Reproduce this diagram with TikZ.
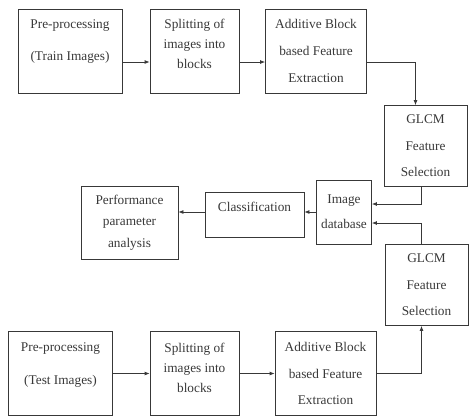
\documentclass[tikz,border=0pt]{standalone}
\usepackage{fontspec}
\setmainfont{Liberation Serif}
\usetikzlibrary{arrows.meta}

\begin{document}
\begin{tikzpicture}[
    x = 1pt, y = -1pt,
    line width = 0.8pt,
    color = black!78,
    > = {Latex[length = 5pt, width = 4pt]},
    block/.style = {draw,
      align = center,
      inner sep = 0pt,
      font = \fontsize{13.3}{20}\selectfont},
    prep/.style = {minimum width = 104pt, minimum height = 84pt},
    split/.style = {minimum width = 89pt, minimum height = 84pt},
    extract/.style = {minimum width = 101pt, minimum height = 84pt},
    glcm/.style = {minimum width = 83pt, minimum height = 81pt},
    ]

    \useasboundingbox (0, 0) rectangle (474, 416);

    % training branch
    \node at (70, 51)
    [block, prep, name = train_pre] {Pre-processing\\[12pt](Train Images)\\[2pt]\mbox{}};

    \node at (194.5, 51)
    [block, split, name = train_split] {Splitting of\\images into\\blocks\\[-6pt]\mbox{}};

    \node at (316, 51)
    [block, extract, name = train_feat] {Additive Block\\[7pt]based Feature\\[7pt]Extraction};

    \node at (425.5, 146)
    [block, glcm, name = train_glcm] {GLCM\\[6.5pt]Feature\\[6.5pt]Selection};

    % middle row
    \node at (344, 212)
    [block, minimum width = 55pt, minimum height = 64pt, name = database]
    {Image\\[5pt]database};

    \node at (254.5, 215)
    [block, minimum width = 99pt, minimum height = 45pt, name = classify]
    {Classification\\[-3pt]\mbox{}};

    \node at (129.5, 222.5)
    [block, minimum width = 97pt, minimum height = 73pt, name = analysis]
    {Performance\\[1.5pt]parameter\\[1.5pt]analysis};

    % testing branch
    \node at (426.5, 285)
    [block, glcm, name = test_glcm] {GLCM\\[6.5pt]Feature\\[6.5pt]Selection};

    \node at (60.5, 373.5)
    [block, prep, name = test_pre] {Pre-processing\\[13pt](Test Images)\\[0pt]\mbox{}};

    \node at (194.5, 373.5)
    [block, split, name = test_split] {Splitting of\\images into\\blocks\\[-8pt]\mbox{}};

    \node at (325.5, 373.5)
    [block, extract, name = test_feat] {Additive Block\\[6.5pt]based Feature\\[6.5pt]Extraction};

    \draw [->] ([yshift = -11] train_pre.east) to ([yshift = -11] train_split.west);
    \draw [->] ([yshift = -11] train_split.east) to ([yshift = -11] train_feat.west);
    \draw [->] ([yshift = -11] train_feat.east) -| ([xshift = -10] train_glcm.north);
    \draw [->] ([xshift = -4] train_glcm.south) |- ([yshift = 8] database.east);

    \draw [->] (test_pre) to (test_split);
    \draw [->] (test_split) to (test_feat);
    \draw [->] (test_feat.east) -| ([xshift = -5] test_glcm.south);
    \draw [->] ([xshift = -5] test_glcm.north) |- ([yshift = -11] database.east);

    \draw [->] (database.west) to (database.west -| classify.east);
    \draw [->] (classify.west |- database.west) to (database.west -| analysis.east);
  \end{tikzpicture}
\end{document}
